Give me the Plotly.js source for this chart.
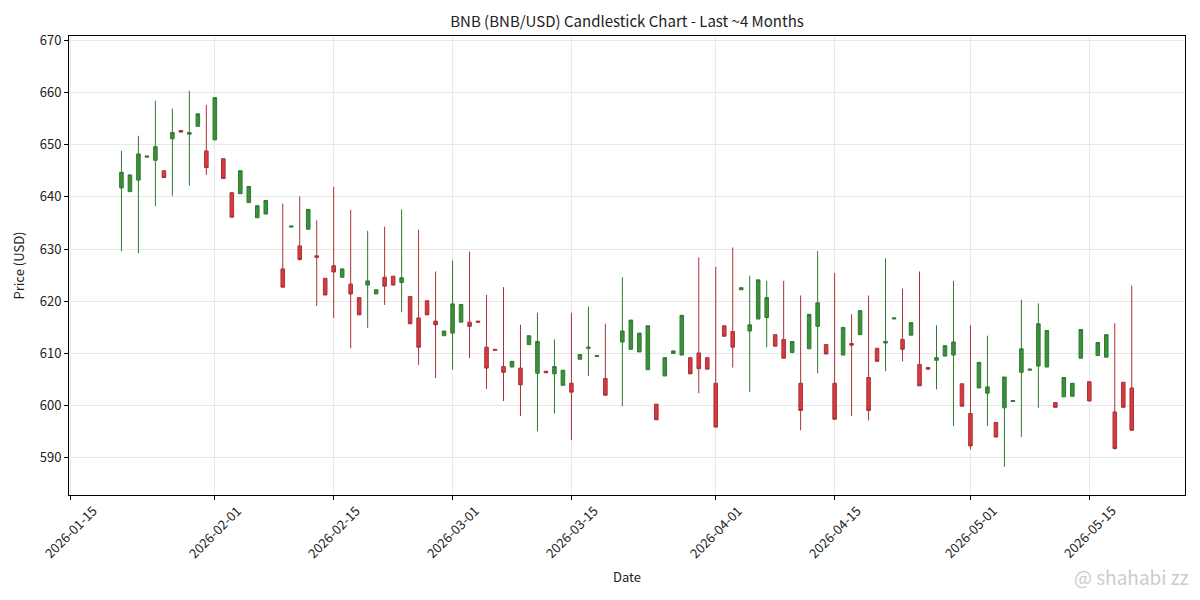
<!DOCTYPE html>
<html>
<head>
<meta charset="utf-8">
<script src="https://cdn.plot.ly/plotly-3.0.1.min.js"></script>
<style>html,body{margin:0;padding:0;background:#fff;}#chart{width:1200px;height:600px;}</style>
</head>
<body>
<div id="chart"></div>
<script>
const dates = ['2026-01-21','2026-01-22','2026-01-23','2026-01-24','2026-01-25','2026-01-26','2026-01-27','2026-01-28','2026-01-29','2026-01-30','2026-01-31',
'2026-02-01','2026-02-02','2026-02-03','2026-02-04','2026-02-05','2026-02-06','2026-02-07','2026-02-09','2026-02-10','2026-02-11','2026-02-12','2026-02-13','2026-02-14','2026-02-15','2026-02-16','2026-02-17','2026-02-18','2026-02-19','2026-02-20','2026-02-21','2026-02-22','2026-02-23','2026-02-24','2026-02-25','2026-02-26','2026-02-27','2026-02-28',
'2026-03-01','2026-03-02','2026-03-03','2026-03-04','2026-03-05','2026-03-06','2026-03-07','2026-03-08','2026-03-09','2026-03-10','2026-03-11','2026-03-12','2026-03-13','2026-03-14','2026-03-15','2026-03-16','2026-03-17','2026-03-18','2026-03-19','2026-03-21','2026-03-22','2026-03-23','2026-03-24','2026-03-25','2026-03-26','2026-03-27','2026-03-28','2026-03-29','2026-03-30','2026-03-31',
'2026-04-01','2026-04-02','2026-04-03','2026-04-04','2026-04-05','2026-04-06','2026-04-07','2026-04-08','2026-04-09','2026-04-10','2026-04-11','2026-04-12','2026-04-13','2026-04-14','2026-04-15','2026-04-16','2026-04-17','2026-04-18','2026-04-19','2026-04-20','2026-04-21','2026-04-22','2026-04-23','2026-04-24','2026-04-25','2026-04-26','2026-04-27','2026-04-28','2026-04-29','2026-04-30',
'2026-05-01','2026-05-02','2026-05-03','2026-05-04','2026-05-05','2026-05-06','2026-05-07','2026-05-08','2026-05-09','2026-05-10','2026-05-11','2026-05-12','2026-05-13','2026-05-14','2026-05-15','2026-05-16','2026-05-17','2026-05-18','2026-05-19','2026-05-20'];

const openP = [641.7,641.0,643.2,647.6,647.0,645.0,651.1,652.7,652.0,653.5,648.8,
650.9,647.3,640.8,640.6,638.9,636.0,636.7,626.2,634.2,630.6,633.8,628.7,624.4,626.8,624.6,623.3,620.7,623.1,621.4,624.6,624.8,623.6,620.9,616.8,620.1,616.2,613.4,
613.9,616.0,616.0,616.2,611.2,610.8,607.5,607.4,607.2,611.7,606.2,606.6,606.1,603.9,604.3,608.9,611.0,609.4,605.2,612.2,610.8,610.3,606.9,600.3,605.7,610.0,609.7,609.2,610.1,609.2,
604.3,615.3,614.2,622.2,614.3,616.6,616.9,613.6,612.7,610.2,604.3,610.9,615.2,611.7,604.3,609.7,611.9,613.6,605.4,611.0,612.0,616.6,612.7,613.5,607.9,607.3,608.7,609.5,609.7,604.2,
598.5,603.4,602.4,596.8,599.6,600.8,606.4,606.8,607.6,607.4,600.6,601.7,601.8,609.1,604.6,609.6,609.3,598.8,604.5,603.4];

const highP = [648.8,644.2,651.7,647.8,658.4,645.0,656.9,652.7,660.3,655.9,657.6,
659.0,647.3,640.8,645.0,642.0,638.3,639.3,638.7,634.4,640.1,637.6,635.5,624.4,641.9,626.2,637.5,620.7,633.5,622.2,634.3,624.8,637.6,620.9,633.7,620.1,625.7,614.3,
627.8,619.4,629.5,616.2,621.2,610.8,622.7,608.5,615.5,613.4,617.8,606.6,612.7,606.8,617.8,609.8,619.0,609.6,615.7,624.6,616.4,613.9,615.3,600.3,609.2,610.5,617.3,609.2,628.4,609.2,
626.6,615.3,630.3,622.6,624.9,624.1,623.9,613.6,623.9,612.3,621.1,617.5,629.6,611.7,625.4,615.0,617.5,618.2,621.1,611.0,628.2,616.8,622.4,615.9,625.7,607.3,615.4,611.5,623.9,604.2,
615.4,608.3,613.4,596.8,605.5,601.0,620.3,607.0,619.6,614.4,600.6,605.4,604.3,614.6,604.6,612.1,613.6,615.8,604.5,623.0];

const lowP = [629.6,641.0,629.2,647.6,638.2,643.7,640.2,652.4,642.1,653.5,644.2,
650.9,643.5,636.1,640.6,638.9,636.0,636.7,622.7,634.2,627.8,633.8,619.1,621.2,616.8,624.6,611.0,617.4,614.9,621.4,619.3,623.1,617.9,615.7,607.8,617.4,605.3,613.4,
606.9,616.0,609.1,616.0,603.2,610.6,600.9,607.4,598.0,611.7,595.1,606.3,598.5,603.9,593.4,608.9,605.7,609.4,602.0,599.9,610.8,610.3,606.9,597.3,605.7,610.0,609.7,606.1,602.4,607.0,
595.9,613.3,607.3,622.2,602.6,616.6,611.2,611.4,609.1,610.2,595.3,610.9,606.2,609.9,597.4,609.7,598.0,613.6,597.2,608.5,606.6,616.6,608.5,613.5,603.8,607.0,603.1,609.5,596.1,599.9,
591.6,603.4,596.1,594.0,588.3,600.8,594.0,606.8,599.6,607.4,599.7,601.7,601.8,609.1,600.9,609.6,609.3,591.6,599.7,595.3];

const closeP = [644.7,644.2,648.2,647.8,649.6,643.7,652.3,652.4,652.3,655.9,645.6,
659.0,643.5,636.1,645.0,642.0,638.3,639.3,622.7,634.4,628.0,637.6,628.4,621.2,625.6,626.2,621.4,617.4,623.9,622.2,622.9,623.1,624.5,615.7,611.2,617.4,615.5,614.3,
619.5,619.4,615.2,616.0,607.2,610.6,606.4,608.5,604.0,613.4,612.3,606.3,607.5,606.8,602.6,609.8,611.2,609.6,602.0,614.3,616.4,613.9,615.3,597.3,609.2,610.5,617.3,606.1,607.1,607.0,
595.9,613.3,611.2,622.6,615.5,624.1,620.7,611.4,609.1,612.3,599.1,617.5,619.7,609.9,597.4,615.0,611.6,618.2,599.1,608.5,612.3,616.8,610.8,615.9,603.8,607.0,609.2,611.5,612.2,599.9,
592.3,608.3,603.6,594.0,605.5,601.0,610.9,607.0,615.7,614.4,599.7,605.4,604.3,614.6,600.9,612.1,613.6,591.8,599.7,595.3];

const xTicks = ['2026-01-15','2026-02-01','2026-02-15','2026-03-01','2026-03-15','2026-04-01','2026-04-15','2026-05-01','2026-05-15'];
const yTicks = [590,600,610,620,630,640,650,660,670];

const FONT = '"Noto Sans CJK SC", "Noto Sans", sans-serif';

const trace = {
  type: 'candlestick',
  x: dates, open: openP, high: highP, low: lowP, close: closeP,
  increasing: {line: {color: '#2f7a2f', width: 1}, fillcolor: '#3b903b'},
  decreasing: {line: {color: '#a83236', width: 1}, fillcolor: '#d93a40'},
  whiskerwidth: 0,
  hoverinfo: 'skip',
  showlegend: false
};

// rotated tick labels centred on their ticks (as in the reference)
const tickLabelAnns = xTicks.map(d => ({
  text: d, xref: 'x', yref: 'paper', x: d, y: -0.0795,
  xanchor: 'center', yanchor: 'middle', textangle: -45, showarrow: false,
  font: {family: FONT, size: 13, color: '#222'}
}));

const layout = {
  width: 1200, height: 600,
  margin: {l: 68.5, r: 14.5, t: 36, b: 105},
  paper_bgcolor: '#ffffff', plot_bgcolor: '#ffffff',
  font: {family: FONT, size: 13, color: '#222'},
  title: {text: 'BNB (BNB/USD) Candlestick Chart - Last ~4 Months', x: 0.5, xref: 'paper', y: 0.963, yref: 'container', yanchor: 'middle', font: {family: FONT, size: 15, color: '#222'}},
  boxgap: 0.4,
  xaxis: {
    type: 'date',
    range: ['2026-01-14 19:45', '2026-05-26 06:30'],
    tickvals: xTicks, ticktext: xTicks, showticklabels: false,
    showgrid: true, gridcolor: '#e8e8e8', gridwidth: 1,
    showline: true, linecolor: '#000', linewidth: 1, mirror: true,
    ticks: 'outside', ticklen: 4, tickcolor: '#000',
    rangeslider: {visible: false},
    title: {text: 'Date', font: {family: FONT, size: 13, color: '#222'}, standoff: 73},
    zeroline: false
  },
  yaxis: {
    range: [582.9, 670.8],
    tickvals: yTicks,
    tickfont: {family: FONT, size: 13, color: '#222'},
    showgrid: true, gridcolor: '#e8e8e8', gridwidth: 1,
    showline: true, linecolor: '#000', linewidth: 1, mirror: true,
    ticks: 'outside', ticklen: 4, tickcolor: '#000',
    title: {text: 'Price (USD)', font: {family: FONT, size: 13, color: '#222'}, standoff: 12},
    zeroline: false
  },
  annotations: tickLabelAnns.concat([{
    text: '@ shahabi zz', xref: 'paper', yref: 'paper', x: 1.0058, y: -0.1786, xanchor: 'right', yanchor: 'middle',
    showarrow: false, font: {family: FONT, size: 19, color: '#cccccc'}
  }])
};

Plotly.newPlot('chart', [trace], layout, {displayModeBar: false, staticPlot: true});
</script>
</body>
</html>
